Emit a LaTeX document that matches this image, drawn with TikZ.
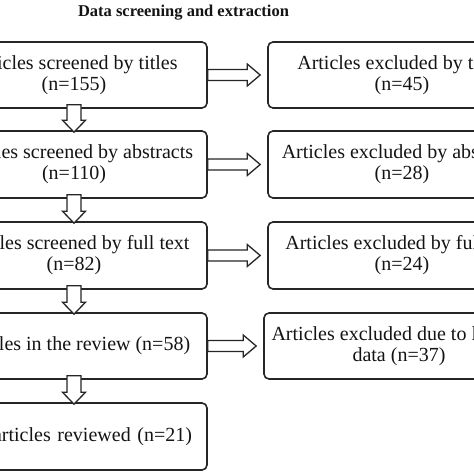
\documentclass[tikz,border=0pt]{standalone}
\usepackage{fontspec}
\setmainfont{Liberation Serif}
\usetikzlibrary{calc}
\tikzset{
  box/.style={draw=black!85, line width=1.6pt, rounded corners=5pt,
    minimum width=266pt, minimum height=66pt, inner sep=0pt, align=center,
    font=\fontsize{20}{21}\selectfont, text=black!92},
  barrow/.style={draw=black!85, line width=1.3pt, fill=white, line join=miter},
  titlefont/.style={font=\fontsize{16.5}{18}\selectfont\bfseries, text=black!92},
}
\newcommand{\dnarrow}[2]{%
  \draw[barrow] let \p1=(#1.south), \p2=(#2.north) in
    (\x1-7pt,\y1+4pt) -- (\x1-7pt,\y2+10pt) -- (\x1-11.5pt,\y2+10pt) --
    (\x1,\y2-2pt) -- (\x1+11.5pt,\y2+10pt) -- (\x1+7pt,\y2+10pt) --
    (\x1+7pt,\y1+4pt) -- cycle;}
\newcommand{\rtarrow}[2]{%
  \draw[barrow] let \p1=(#1.east), \p2=(#2.west) in
    (\x1,\y1+5.5pt) -- (\x2-20pt,\y1+5.5pt) -- (\x2-20pt,\y1+11pt) --
    (\x2-7pt,\y1) -- (\x2-20pt,\y1-11pt) -- (\x2-20pt,\y1-5.5pt) --
    (\x1,\y1-5.5pt) -- cycle;}
\begin{document}
\begin{tikzpicture}[x=1pt,y=-1pt]
\useasboundingbox (0,0) rectangle (474,474);
\clip (0,0) rectangle (474,474);
\fill[white] (0,0) rectangle (474,474);
\node[titlefont] (title) at (183.5,13) {Data screening and extraction};

\node[box] (l1) at (74,75) {Articles screened by titles\\(n=155)};
\node[box, minimum height=67pt] (l2) at (74,164.5) {Articles screened by abstracts\\(n=110)};
\node[box, minimum height=67pt] (l3) at (74,255.5) {Articles screened by full text\\(n=82)};
\node[box] (l4) at (74,346) {Articles in the review (n=58)};
\node[box, minimum height=67pt, text width=236pt, align=right] (l5) at (74,436.5) {articles reviewed (n=21)};

\node[box, minimum width=268pt] (r1) at (402,75) {Articles excluded by titles\\(n=45)};
\node[box, minimum width=268pt, minimum height=67pt] (r2) at (402,164.5) {Articles excluded by abstracts\\(n=28)};
\node[box, minimum width=268pt, minimum height=67pt] (r3) at (402,255.5) {Articles excluded by full text\\(n=24)};
\node[box, minimum width=270pt] (r4) at (399,346) {Articles excluded due to lack of\\data (n=37)};

\dnarrow{l1}{l2}
\dnarrow{l2}{l3}
\dnarrow{l3}{l4}
\dnarrow{l4}{l5}

\rtarrow{l1}{r1}
\rtarrow{l2}{r2}
\rtarrow{l3}{r3}
\rtarrow{l4}{r4}
\end{tikzpicture}
\end{document}
